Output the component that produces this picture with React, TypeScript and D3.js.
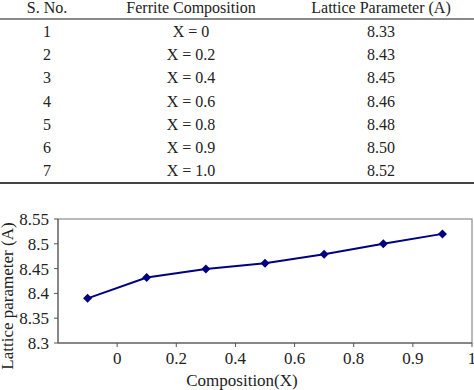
import React from 'react';
import * as d3 from 'd3';

// table data
const serialNos = ['1', '2', '3', '4', '5', '6', '7'];
const compositions = ['X = 0', 'X = 0.2', 'X = 0.4', 'X = 0.6', 'X = 0.8', 'X = 0.9', 'X = 1.0'];
const tableParams = ['8.33', '8.43', '8.45', '8.46', '8.48', '8.50', '8.52'];
const headers = ['S. No.', 'Ferrite Composition', 'Lattice Parameter (A)'];

// chart data
const xCategories = ['0', '0.2', '0.4', '0.6', '0.8', '0.9', '1'];
const latticeValues = [8.39, 8.432, 8.449, 8.461, 8.479, 8.5, 8.52];
const yTicks = [8.3, 8.35, 8.4, 8.45, 8.5, 8.55];

const W = 474;
const H = 390;
const FONT = "'Liberation Serif', 'Times New Roman', serif";

const colX = [47, 191, 381];
const rowY = d3.scaleLinear().domain([0, 6]).range([37, 176]);

const plot = { left: 58, right: 472, top: 219, bottom: 343 };

const App: React.FC = () => {
    const x = d3.scaleBand<string>()
        .domain(xCategories)
        .range([plot.left, plot.right])
        .paddingInner(0)
        .paddingOuter(0);
    const y = d3.scaleLinear().domain([8.3, 8.55]).range([plot.bottom, plot.top]);

    const pts: [number, number][] = latticeValues.map((v, i) => [
        (x(xCategories[i]) ?? 0) + x.bandwidth() / 2,
        y(v),
    ]);
    const line = d3.line();
    const fmt = (v: number) => String(+v.toFixed(2));

    return (
        <svg
            width={W}
            height={H}
            style={{ position: 'absolute', left: 0, top: 0, background: '#fff', fontFamily: FONT }}
        >
            <rect width={W} height={H} fill="#fff" />

            {/* --- table --- */}
            {headers.map((h, i) => (
                <text key={h} x={colX[i]} y={13} textAnchor="middle" fontSize={16} fill="#222">{h}</text>
            ))}
            <line x1={0} x2={W} y1={19} y2={19} stroke="#8a8a8a" strokeWidth={2} />
            {serialNos.map((s, i) => (
                <g key={s} fontSize={16} fill="#222" textAnchor="middle">
                    <text x={colX[0]} y={rowY(i)}>{s}</text>
                    <text x={colX[1]} y={rowY(i)}>{compositions[i]}</text>
                    <text x={colX[2]} y={rowY(i)}>{tableParams[i]}</text>
                </g>
            ))}
            <line x1={0} x2={W} y1={183} y2={183} stroke="#444" strokeWidth={2} />

            {/* --- chart --- */}
            <rect
                x={plot.left}
                y={plot.top}
                width={plot.right - plot.left}
                height={plot.bottom - plot.top}
                fill="none"
                stroke="#8c8c8c"
                strokeWidth={1.2}
            />
            <line x1={plot.left} x2={plot.left} y1={plot.top} y2={plot.bottom} stroke="#555" strokeWidth={1} />
            <line x1={plot.left} x2={plot.right} y1={plot.bottom} y2={plot.bottom} stroke="#555" strokeWidth={1} />

            {yTicks.map(t => (
                <g key={t}>
                    <line x1={plot.left - 4} x2={plot.left} y1={y(t)} y2={y(t)} stroke="#555" />
                    <text x={plot.left - 9} y={y(t)} dy="0.35em" textAnchor="end" fontSize={17} fill="#222">{fmt(t)}</text>
                </g>
            ))}

            {xCategories.map(c => {
                const tx = (x(c) ?? 0) + x.bandwidth();
                return (
                    <g key={c}>
                        <line x1={tx} x2={tx} y1={plot.bottom} y2={plot.bottom + 4} stroke="#555" />
                        <text x={tx} y={364} textAnchor="middle" fontSize={17} fill="#222">{c}</text>
                    </g>
                );
            })}

            <path d={line(pts) ?? ''} fill="none" stroke="#000080" strokeWidth={2} />
            {pts.map(([px, py], i) => (
                <path
                    key={i}
                    d={`M${px},${py - 4.5}L${px + 4.5},${py}L${px},${py + 4.5}L${px - 4.5},${py}Z`}
                    fill="#000080"
                />
            ))}

            <text x={242} y={386} textAnchor="middle" fontSize={17} fill="#222">Composition(X)</text>
            <text
                transform={`translate(13, 296) rotate(-90)`}
                textAnchor="middle"
                fontSize={17}
                fill="#222"
            >
                Lattice parameter (A)
            </text>
        </svg>
    );
};

export default App;
